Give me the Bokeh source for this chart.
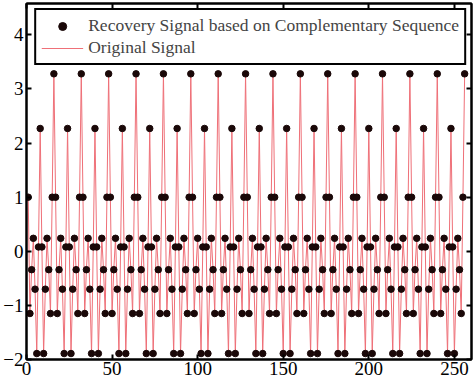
from bokeh.plotting import figure
from bokeh.models import LinearAxis, FixedTicker, Legend, LegendItem, ColumnDataSource
from bokeh.embed import file_html
from bokeh.resources import INLINE

# one period (16 samples); the signal repeats 16 times
period_values = [1.0, -1.15, -0.34, 0.24, -0.70, -1.89, 0.08, 2.27,
                 0.08, -1.89, -0.70, 0.24, -0.34, -1.15, 1.0, 3.28]
n_periods = 16
sample_index = list(range(1, 16 * n_periods + 1))
original_signal = period_values * n_periods
recovery_signal = period_values * n_periods

x_ticks = [0, 50, 100, 150, 200, 250]
y_ticks = [-2, -1, 0, 1, 2, 3, 4]
label_recovery = "Recovery Signal based on Complementary Sequence"
label_original = "Original Signal"

FONT = "Liberation Serif"

src = ColumnDataSource(dict(x=sample_index, orig=original_signal, rec=recovery_signal))

p = figure(width=474, height=377, x_range=(0, 260), y_range=(-2, 4.58),
           output_backend="svg", toolbar_location=None,
           min_border_left=0, min_border_right=3, min_border_top=3, min_border_bottom=0)
p.grid.visible = False
p.background_fill_color = "white"
p.border_fill_color = "white"
p.outline_line_color = "black"
p.outline_line_width = 2
p.outline_line_alpha = 1

line_r = p.line("x", "orig", source=src, line_color="#ef7078", line_width=1)
dot_r = p.scatter("x", "rec", source=src, size=6.5, fill_color="#1a0808", line_color="#1a0808")

def style_axis(ax, show_labels=True, ticks=None):
    ax.axis_line_color = "black"
    ax.axis_line_width = 2
    ax.major_tick_in = 5
    ax.major_tick_out = 0
    ax.major_tick_line_color = "black"
    ax.major_tick_line_width = 2
    ax.minor_tick_line_color = None
    ax.major_label_text_font = FONT
    ax.major_label_text_font_size = "19px"
    ax.major_label_text_color = "black"
    if not show_labels:
        ax.major_label_overrides = {t: "" for t in ticks}
        ax.major_label_standoff = 0

p.xaxis.ticker = FixedTicker(ticks=x_ticks)
p.yaxis.ticker = FixedTicker(ticks=y_ticks)
style_axis(p.xaxis[0])
style_axis(p.yaxis[0])
p.xaxis.major_label_standoff = 2
p.yaxis.major_label_standoff = 3

top = LinearAxis(ticker=FixedTicker(ticks=x_ticks))
style_axis(top, False, x_ticks)
p.add_layout(top, "above")
right = LinearAxis(ticker=FixedTicker(ticks=y_ticks))
style_axis(right, False, y_ticks)
p.add_layout(right, "right")

legend = Legend(items=[LegendItem(label=label_recovery, renderers=[dot_r]),
                       LegendItem(label=label_original, renderers=[line_r])],
                location="top_right", margin=5,
                border_line_color="black", border_line_width=2, border_line_alpha=1,
                background_fill_color="white", background_fill_alpha=1,
                label_text_font=FONT, label_text_font_size="17.5px",
                glyph_width=42, glyph_height=20, label_standoff=5,
                padding=5, spacing=1, label_height=20)
p.add_layout(legend, "center")

open("out.html", "w").write(file_html(p, INLINE))
